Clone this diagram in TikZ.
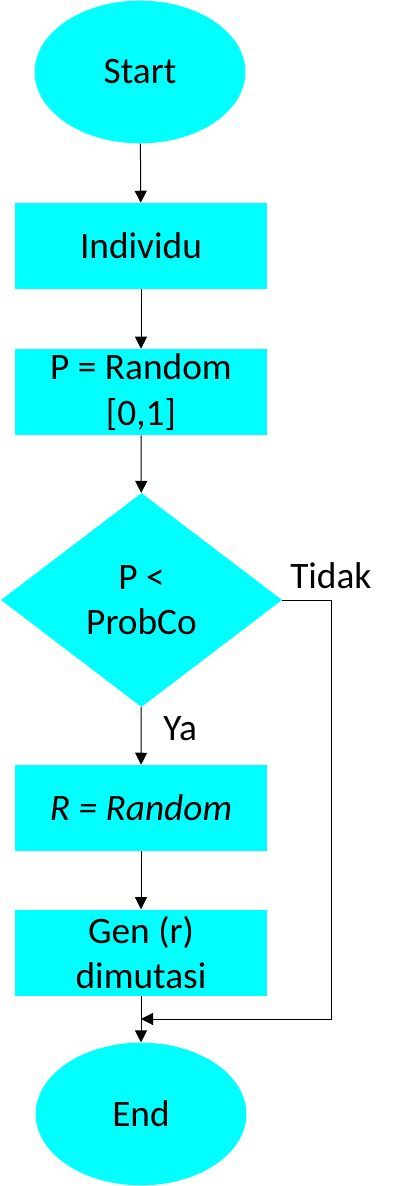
\documentclass[tikz,border=0pt]{standalone}
\usepackage{fontspec}
\setmainfont{Carlito}
\usetikzlibrary{arrows.meta,shapes.geometric,positioning}
\definecolor{aqua}{RGB}{0,255,255}
\begin{document}
\begin{tikzpicture}[x=0.75pt,y=-0.75pt,
		font=\fontsize{28}{34}\selectfont,
		term/.style={ellipse,fill=aqua,inner sep=0pt,minimum width=158pt,minimum height=107pt},
		proc/.style={rectangle,fill=aqua,inner sep=0pt,minimum width=189pt,minimum height=64.5pt,align=center},
		decision/.style={diamond,fill=aqua,inner sep=0pt,minimum width=210.75pt,minimum height=160.5pt,align=center},
		arr/.style={line width=0.75pt,-{Triangle[length=9pt,width=9pt]}}]
		\useasboundingbox (0,0) rectangle (409,1186);
		
		% flowchart boxes
		\node[term] (start) at (140,72) {Start};
		\node[proc] (indiv) at (141,246) {Individu};
		\node[proc] (rand) at (141,392) {P = Random\\{[0,1]}};
		\node[decision] (cond) at (141.5,600) {P <\\ProbCo};
		\node[proc] (rr) at (141,808) {\textit{R = Random}};
		\node[proc] (gen) at (141,952.5) {Gen (r)\\dimutasi};
		\node[term] (end) at (141,1114) {End};
		\coordinate (join) at (141,1019);
		
		% branch labels
		\node[anchor=base west,inner sep=0pt] (tidak) at (290,588) {Tidak};
		\node[anchor=base west,inner sep=0pt] (ya) at (163,740) {Ya};
		
		% connectors
		\draw[arr] (start) -- (indiv);
		\draw[arr] (indiv) -- (rand);
		\draw[arr] (rand) -- (cond);
		\draw[arr] (cond) -- (rr);
		\draw[arr] (rr) -- (gen);
		\draw[arr] (gen) -- (end);
		\draw[arr] (cond.east) -- ++(49,0) |- (join);
	\end{tikzpicture}
\end{document}
